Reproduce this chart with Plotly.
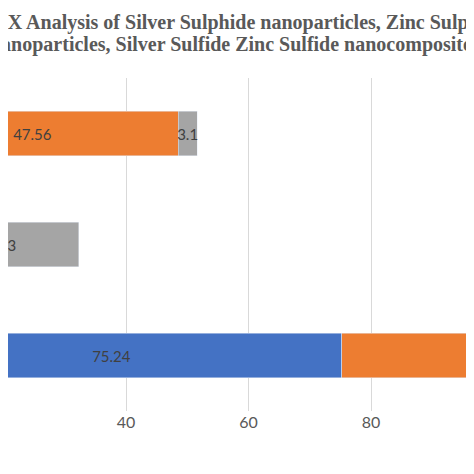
import plotly.graph_objects as go

samples = ["Silver Sulphide nanoparticles", "Zinc Sulphide nanoparticles",
           "Silver Sulfide Zinc Sulfide nanocomposite"]
ag = [75.24, None, 0.94]
s = [24.74, 7.0, 47.56]
zn = [None, 25.3, 3.1]

colors = {"Ag": "#4472C4", "S": "#ED7D31", "Zn": "#A5A5A5"}

fig = go.Figure()
for name, vals in [("Ag", ag), ("S", s), ("Zn", zn)]:
    fig.add_trace(go.Bar(
        y=samples, x=vals, name=name, orientation="h",
        marker_color=colors[name], width=0.405,
        text=[("" if v is None else f"{v:g}") for v in vals],
        textposition="inside", insidetextanchor="middle", constraintext="none",
        textangle=0, cliponaxis=False,
        textfont=dict(size=15, color="#404040"),
    ))

fig.add_annotation(text="<b>EDX Analysis of Silver Sulphide nanoparticles, Zinc Sulphide</b>",
                   xref="paper", yref="paper", x=0, y=1, xanchor="left", yanchor="bottom",
                   xshift=-30, yshift=42, showarrow=False,
                   font=dict(family="Liberation Serif", size=20, color="#595959"))
fig.add_annotation(text="<b>nanoparticles, Silver Sulfide Zinc Sulfide nanocomposite</b>",
                   xref="paper", yref="paper", x=0, y=1, xanchor="left", yanchor="bottom",
                   xshift=-20, yshift=20, showarrow=False,
                   font=dict(family="Liberation Serif", size=20, color="#595959"))

fig.update_layout(
    width=474, height=474, barmode="stack",
    margin=dict(l=0, r=0, t=70, b=71, autoexpand=False),
    plot_bgcolor="white", paper_bgcolor="white",
    font=dict(family="Lato", color="#595959"),
    legend=dict(orientation="h", x=0.5, xanchor="center", y=-0.17, yanchor="top",
                font=dict(size=17), traceorder="normal",
                entrywidth=22, entrywidthmode="pixels"),
    xaxis=dict(range=[20.73, 98.1], dtick=20, showgrid=True, gridcolor="#D9D9D9",
               zeroline=False, tickfont=dict(size=16, color="#595959")),
    yaxis=dict(showticklabels=False, showgrid=False),
)

fig.write_html("out.html")
